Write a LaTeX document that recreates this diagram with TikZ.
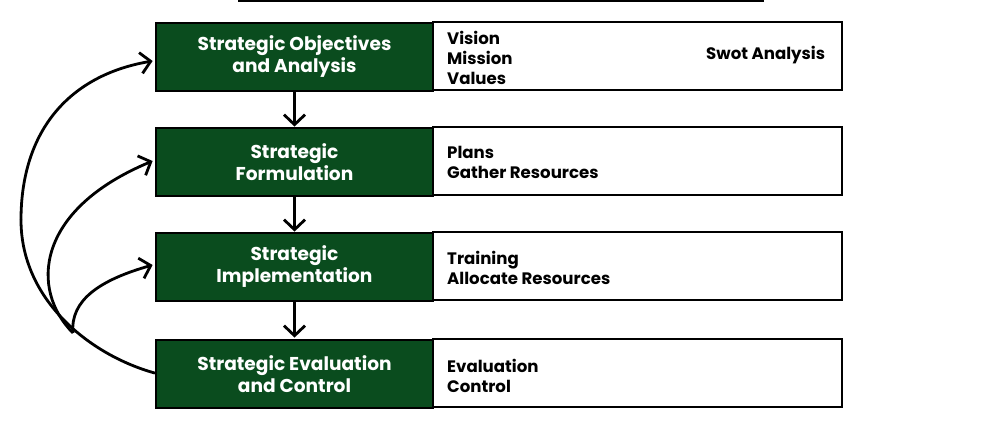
\documentclass[tikz,border=0pt]{standalone}
\usepackage{fontspec}
\setmainfont{Poppins}
\usetikzlibrary{arrows.meta}
\definecolor{sgreen}{RGB}{10,76,30}
\begin{document}
\begin{tikzpicture}[x=1pt,y=-1pt,
  lbox/.style={draw=black,line width=2.8pt,fill=sgreen,minimum width=277pt,minimum height=68pt,inner sep=0pt,
    text=white,align=center,font=\bfseries\fontsize{18.6}{22}\selectfont},
  rbox/.style={draw=black,line width=2.8pt,fill=white,minimum width=409pt,minimum height=68pt,inner sep=0pt},
  rtxt/.style={anchor=west,inner sep=0pt,align=left,font=\bfseries\fontsize{16.6}{20}\selectfont},
  arr/.style={line width=2.8pt,-{Straight Barb[length=10pt,width=21pt,line width=2.8pt]}},
  cur/.style={line width=2.8pt,line cap=round}]
\useasboundingbox (0,0) rectangle (988,422);
\coordinate (tl) at (238,0.8);
\coordinate (tr) at (764,0.8);
\draw[line width=1.6pt] (tl) -- (tr);

\node[rbox] (r1) at (637.5,56) {};
\node[rbox] (r2) at (637.5,161) {};
\node[rbox] (r3) at (637.5,266) {};
\node[rbox] (r4) at (637.5,373) {};
\node[lbox] (b1) at (294.5,57) {Strategic Objectives\\and Analysis};
\node[lbox] (b2) at (294.5,162) {Strategic\\Formulation};
\node[lbox] (b3) at (294.5,267) {Strategic\\Implementation};
\node[lbox] (b4) at (294.5,374) {Strategic Evaluation\\and Control};

\node[rtxt] (t1) at (447,57.5) {Vision\\Mission\\Values};
\node[rtxt] (s1) at (706,55.5) {Swot Analysis};
\node[rtxt] (t2) at (447,162.5) {Plans\\Gather Resources};
\node[rtxt] (t3) at (447,267.5) {Training\\Allocate Resources};
\node[rtxt] (t4) at (447,375.5) {Evaluation\\Control};

\draw[arr] ([yshift=1pt]b1.south) -- (b2.north);
\draw[arr] ([yshift=1pt]b2.south) -- (b3.north);
\draw[arr] ([yshift=1pt]b3.south) -- ([yshift=1pt]b4.north);

\coordinate (st) at ([yshift=1pt]b4.west);
\coordinate (m) at (73,333);
\coordinate (e1) at ([xshift=-2pt,yshift=-4pt]b1.west);
\coordinate (e2) at ([xshift=-2pt,yshift=1pt]b2.west);
\coordinate (e3) at ([xshift=-2pt,yshift=2pt]b3.west);
\draw[cur] (st) .. controls (90,355) and (21,300) .. (21,220);
\draw[arr] (21,220) .. controls (21,130) and (70,75) .. (e1);
\draw[arr] (m) .. controls (30,290) and (35,210) .. (e2);
\draw[arr] (m) .. controls (70,300) and (100,280) .. (e3);
\end{tikzpicture}
\end{document}
